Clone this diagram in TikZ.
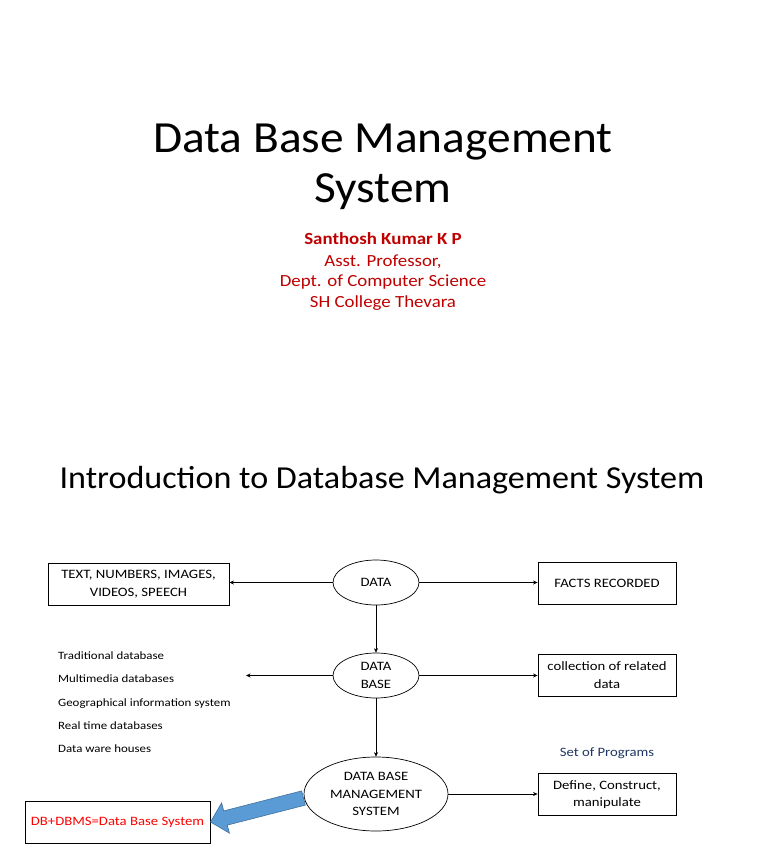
\documentclass[tikz,border=0pt]{standalone}
\usepackage{fontspec}
\setmainfont{Carlito}
\newfontfamily\smallwide[FakeStretch=1.15]{Carlito}
\newfontfamily\authwide[FakeStretch=1.11]{Carlito}
\newfontfamily\titlewide[FakeStretch=1.065]{Carlito}
\usetikzlibrary{arrows.meta,shapes.geometric}
\definecolor{authred}{HTML}{C00000}
\definecolor{brightred}{HTML}{FF0000}
\definecolor{progblue}{HTML}{203864}
\definecolor{arrowfill}{HTML}{5B9BD5}
\definecolor{arrowline}{HTML}{41719C}
\tikzset{
  box/.style={draw, line width=0.9pt, minimum width=138pt, minimum height=42pt, inner sep=2pt, align=center, font=\smallwide\fontsize{12.8}{17.5}\selectfont},
  oval/.style={draw, ellipse, line width=0.7pt, inner sep=0pt, align=center, font=\smallwide\fontsize{12.8}{17.5}\selectfont},
  conn/.style={-{Stealth[length=4.5pt,width=4pt]}, line width=0.6pt},
  listitem/.style={anchor=base west, inner sep=0pt, font=\smallwide\fontsize{11.2}{13}\selectfont},
  authline/.style={anchor=base, inner sep=0pt, text=authred, font=\authwide\fontsize{17}{20}\selectfont},
  titleline/.style={anchor=base, inner sep=0pt, font=\titlewide\fontsize{44.5}{50}\selectfont},
}
\begin{document}
\begin{tikzpicture}[x=1pt,y=-1pt]
\useasboundingbox (0,0) rectangle (768,866);
\fill[white] (0,0) rectangle (768,866);
% title slide
\node[titleline] (t1) at (383,153) {Data Base Management};
\node[titleline] (t2) at (383,203) {System};
\node[authline, font=\authwide\fontsize{17}{20}\selectfont\bfseries] (a1) at (383,245) {Santhosh Kumar K P};
\node[authline] (a2) at (383,266) {Asst. Professor,};
\node[authline] (a3) at (383,286) {Dept. of Computer Science};
\node[authline] (a4) at (383,307) {SH College Thevara};
% second slide title
\node[anchor=base, inner sep=0pt, font=\titlewide\fontsize{32}{38}\selectfont] (intro) at (382,488) {Introduction to Database Management System};
% diagram
\node[oval, minimum width=86pt, minimum height=45pt] (data) at (376,582.5) {DATA};
\node[box, minimum width=181pt] (text) at (138.5,584) {TEXT, NUMBERS, IMAGES,\\VIDEOS, SPEECH};
\node[box] (facts) at (607,583.5) {FACTS RECORDED};
\node[oval, minimum width=86pt, minimum height=45pt] (db) at (376,675.5) {DATA\\BASE};
\node[box] (coll) at (607,675) {collection of related\\data};
\coordinate (lend) at (246,675.5);
\node[oval, minimum width=144pt, minimum height=74pt] (dbms) at (376,794) {DATA BASE\\MANAGEMENT\\SYSTEM};
\node[box] (def) at (607,794.5) {Define, Construct,\\manipulate};
\node[box, minimum width=185pt, text=brightred] (dbs) at (117.5,822.5) {DB+DBMS=Data Base System};
\node[anchor=base, inner sep=0pt, text=progblue, font=\smallwide\fontsize{12.8}{15}\selectfont] (sop) at (607,756) {Set of Programs};
\node[listitem] (l1) at (58,659) {Traditional database};
\node[listitem] (l2) at (58,682) {Multimedia databases};
\node[listitem] (l3) at (58,706) {Geographical information system};
\node[listitem] (l4) at (58,729) {Real time databases};
\node[listitem] (l5) at (58,752) {Data ware houses};
% connectors
\draw[conn] (data.west) -- (text.east |- data.west);
\draw[conn] (data.east) -- (facts.west |- data.east);
\draw[conn] (data.south) -- (db.north);
\draw[conn] (db.west) -- (lend);
\draw[conn] (db.east) -- (coll.west |- db.east);
\draw[conn] (db.south) -- (dbms.north);
\draw[conn] (dbms.east) -- (def.west |- dbms.east);
% block arrow
\draw[fill=arrowfill, draw=arrowline, line width=0.6pt, line join=miter]
  (301.7,790.9) -- (223.7,810.9) -- (221.6,802.9) -- (210.5,822) -- (229.4,833.1) -- (227.3,825.1) -- (305.3,805.1) -- cycle;
\end{tikzpicture}
\end{document}
